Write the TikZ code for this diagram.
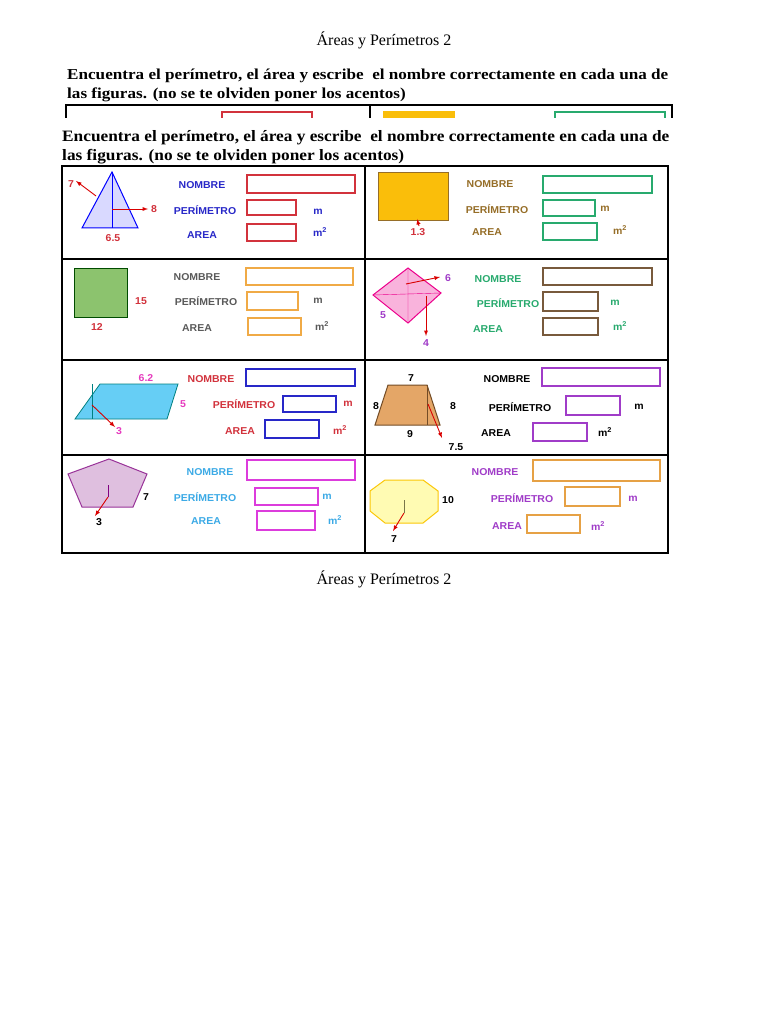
\documentclass[tikz,border=0pt]{standalone}
\usepackage{fontspec}
\setmainfont{Liberation Serif}
\newfontfamily\lsans{Liberation Sans}
\usepackage{graphicx}
\definecolor{cred}{RGB}{210,50,60}
\definecolor{cblue}{RGB}{40,40,200}
\definecolor{cgreen}{RGB}{40,170,110}
\definecolor{colive}{RGB}{150,110,40}
\definecolor{corange}{RGB}{240,170,70}
\definecolor{cgray}{RGB}{90,90,90}
\definecolor{cbrown}{RGB}{120,90,60}
\definecolor{cmag}{RGB}{220,60,220}
\definecolor{cpurp}{RGB}{160,60,200}
\definecolor{clblue}{RGB}{60,170,230}
\definecolor{cpink}{RGB}{230,60,190}
\definecolor{camber}{RGB}{250,190,10}
\definecolor{cleaf}{RGB}{140,195,110}
\tikzset{lab/.style={font=\lsans\bfseries\fontsize{10}{11}\selectfont,inner sep=0pt,xscale=1.05},
 bx/.style={draw=#1,line width=1.6pt},
 arr/.style={draw=red!85!black,line width=0.9pt,-latex}}
\begin{document}
\begin{tikzpicture}[x=1pt,y=-1pt]
\useasboundingbox (0,0) rectangle (768,1024);
\fill[white] (0,0) rectangle (768,1024);
\node (t1) at (384,40) {\fontsize{16}{18}\selectfont Áreas y Perímetros 2};
% first (cut) header
\node[anchor=north west,inner sep=0pt] (h1) at (67,67) {\resizebox{601pt}{22pt}{\bfseries\begin{tabular}{@{}l@{}}Encuentra el perímetro, el área y escribe \ el nombre correctamente en cada una de\\las figuras. (no se te olviden poner los acentos)\end{tabular}}};
\draw[line width=1.5pt] (66,118) -- (66,105) -- (672,105) -- (672,118);
\draw[line width=1.5pt] (370,105) -- (370,118);
\draw[cred,line width=1.5pt] (222,118) -- (222,112) -- (312,112) -- (312,118);
\fill[camber] (383,111) rectangle (455,118);
\draw[cgreen,line width=1.5pt] (555,118) -- (555,112) -- (665,112) -- (665,118);
% second header
\node[anchor=north west,inner sep=0pt] (h2) at (62,128) {\resizebox{607pt}{23pt}{\bfseries\begin{tabular}{@{}l@{}}Encuentra el perímetro, el área y escribe \ el nombre correctamente en cada una de\\las figuras. (no se te olviden poner los acentos)\end{tabular}}};
% table
\draw[line width=1.5pt] (62,166) rectangle (668,553);
\draw[line width=1.5pt] (365,166) -- (365,553);
\foreach \y in {259,360,455} \draw[line width=1.5pt] (62,\y) -- (668,\y);
% cell 1
\draw[blue,fill=blue!15,line width=1pt] (112,172) -- (138,228) -- (82,228) -- cycle;
\draw[blue] (112,172) -- (112,228);
\draw[arr] (96,196) -- (76,181);
\node[lab,text=cred] at (71,184) {7};
\draw[arr] (112,209) -- (148,209);
\node[lab,text=cred] at (154,209) {8};
\node[lab,text=cred] at (113,238) {6.5};
\node[lab,text=cblue] at (202,185) {NOMBRE};
\node[lab,text=cblue] at (205,210) {PERÍMETRO};
\node[lab,text=cblue] at (202,235) {AREA};
\draw[bx=cred] (247,175) rectangle (355,193);
\draw[bx=cred] (247,200) rectangle (296,215);
\draw[bx=cred] (247,224) rectangle (296,241);
\node[lab,text=cblue] at (318,212) {m};
\node[lab,text=cblue] at (320,232) {m\textsuperscript{2}};
% cell 2
\draw[fill=camber,draw=colive,line width=0.8pt] (378,172) rectangle (448,220);
\draw[arr,-latex] (419,226) -- (417,219);
\node[lab,text=cred] at (418,232) {1.3};
\node[lab,text=colive] at (490,184) {NOMBRE};
\node[lab,text=colive] at (497,209) {PERÍMETRO};
\node[lab,text=colive] at (487,232) {AREA};
\draw[bx=cgreen] (543,176) rectangle (652,193);
\draw[bx=cgreen] (543,200) rectangle (595,216);
\draw[bx=cgreen] (543,223) rectangle (597,240);
\node[lab,text=colive] at (605,209) {m};
\node[lab,text=colive] at (620,230) {m\textsuperscript{2}};
% cell 3
\draw[fill=cleaf,draw=green!30!black,line width=1pt] (74,268) rectangle (127,317);
\node[lab,text=cred] at (141,301) {15};
\node[lab,text=cred] at (97,327) {12};
\node[lab,text=cgray] at (197,277) {NOMBRE};
\node[lab,text=cgray] at (206,301) {PERÍMETRO};
\node[lab,text=cgray] at (197,328) {AREA};
\draw[bx=corange] (246,268) rectangle (353,285);
\draw[bx=corange] (247,292) rectangle (298,310);
\draw[bx=corange] (248,318) rectangle (301,335);
\node[lab,text=cgray] at (318,301) {m};
\node[lab,text=cgray] at (322,326) {m\textsuperscript{2}};
% cell 4
\draw[fill=magenta!30,draw=magenta,line width=1pt] (408,268) -- (441,293) -- (408,323) -- (373,295) -- cycle;
\draw[magenta] (408,268) -- (408,323) (373,295) -- (441,293);
\draw[arr] (406,284) -- (440,277);
\node[lab,text=cpurp] at (448,278) {6};
\node[lab,text=cpurp] at (383,315) {5};
\draw[arr] (426,296) -- (426,336);
\node[lab,text=cpurp] at (426,343) {4};
\node[lab,text=cgreen] at (498,279) {NOMBRE};
\node[lab,text=cgreen] at (508,303) {PERÍMETRO};
\node[lab,text=cgreen] at (488,329) {AREA};
\draw[bx=cbrown] (543,268) rectangle (652,285);
\draw[bx=cbrown] (543,292) rectangle (598,311);
\draw[bx=cbrown] (543,318) rectangle (598,335);
\node[lab,text=cgreen] at (615,303) {m};
\node[lab,text=cgreen] at (620,326) {m\textsuperscript{2}};
% cell 5
\draw[fill=cyan!60,draw=teal,line width=0.8pt] (100,384) -- (178,384) -- (167,419) -- (75,419) -- cycle;
\draw[teal] (92,384) -- (92,419);
\draw[arr] (92,405) -- (115,427);
\node[lab,text=cpink] at (119,431) {3};
\node[lab,text=cpink] at (146,378) {6.2};
\node[lab,text=cpink] at (183,404) {5};
\node[lab,text=cred] at (211,379) {NOMBRE};
\node[lab,text=cred] at (244,404) {PERÍMETRO};
\node[lab,text=cred] at (240,431) {AREA};
\draw[bx=cblue] (246,369) rectangle (355,386);
\draw[bx=cblue] (283,396) rectangle (336,412);
\draw[bx=cblue] (265,420) rectangle (319,438);
\node[lab,text=cred] at (348,404) {m};
\node[lab,text=cred] at (340,430) {m\textsuperscript{2}};
% cell 6
\draw[fill=brown!60!orange!70,draw=brown!60!black,line width=1pt] (388,385) -- (427,385) -- (440,425) -- (375,425) -- cycle;
\draw[brown!60!black] (427,385) -- (427,425);
\draw[arr] (428,404) -- (442,438);
\node[lab] at (411,378) {7};
\node[lab] at (376,406) {8};
\node[lab] at (453,406) {8};
\node[lab] at (410,434) {9};
\node[lab] at (456,447) {7.5};
\node[lab] at (507,379) {NOMBRE};
\node[lab] at (520,407) {PERÍMETRO};
\node[lab] at (496,433) {AREA};
\draw[bx=cpurp] (542,368) rectangle (660,386);
\draw[bx=cpurp] (566,396) rectangle (620,415);
\draw[bx=cpurp] (533,423) rectangle (587,441);
\node[lab] at (639,407) {m};
\node[lab] at (605,432) {m\textsuperscript{2}};
% cell 7
\draw[fill=violet!25,draw=violet!80,line width=1pt] (109,459) -- (147,474) -- (133,507) -- (82,507) -- (68,474) -- cycle;
\draw[violet] (108,485) -- (108,497);
\draw[arr] (108,497) -- (95,516);
\node[lab] at (146,497) {7};
\node[lab] at (99,522) {3};
\node[lab,text=clblue] at (210,472) {NOMBRE};
\node[lab,text=clblue] at (205,497) {PERÍMETRO};
\node[lab,text=clblue] at (206,521) {AREA};
\draw[bx=cmag] (247,460) rectangle (355,480);
\draw[bx=cmag] (255,488) rectangle (318,505);
\draw[bx=cmag] (257,511) rectangle (315,530);
\node[lab,text=clblue] at (327,497) {m};
\node[lab,text=clblue] at (335,520) {m\textsuperscript{2}};
% cell 8
\draw[fill=yellow!30,draw=yellow!60!orange,line width=1pt] (385,480) -- (423,480) -- (438,491) -- (438,511) -- (423,523) -- (385,523) -- (370,511) -- (370,491) -- cycle;
\draw[yellow!40!black] (404,500) -- (404,513);
\draw[arr] (404,513) -- (393,531);
\node[lab] at (448,500) {10};
\node[lab] at (394,539) {7};
\node[lab,text=cpurp] at (495,472) {NOMBRE};
\node[lab,text=cpurp] at (522,498) {PERÍMETRO};
\node[lab,text=cpurp] at (507,526) {AREA};
\draw[bx=corange!80!brown] (533,460) rectangle (660,481);
\draw[bx=corange!80!brown] (565,487) rectangle (620,506);
\draw[bx=corange!80!brown] (527,515) rectangle (580,533);
\node[lab,text=cpurp] at (633,499) {m};
\node[lab,text=cpurp] at (598,526) {m\textsuperscript{2}};
\node (t2) at (384,579) {\fontsize{16}{18}\selectfont Áreas y Perímetros 2};
\end{tikzpicture}
\end{document}
